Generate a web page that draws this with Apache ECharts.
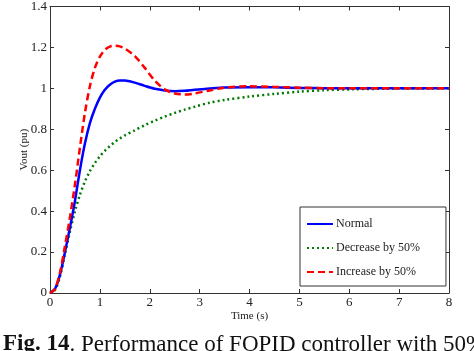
<!DOCTYPE html>
<html>
<head>
<meta charset="utf-8">
<script src="https://cdn.jsdelivr.net/npm/echarts@6/dist/echarts.min.js"></script>
<style>
  html, body { margin: 0; padding: 0; background: #fff; }
  #chart { width: 474px; height: 351px; }
</style>
</head>
<body>
<div id="chart"></div>
<script>
// time samples (s)
const time = [0, 0.1, 0.2, 0.3, 0.4, 0.5, 0.6, 0.7, 0.8, 0.9, 1.0, 1.1, 1.2, 1.3, 1.4, 1.5,
  1.7, 1.9, 2.1, 2.3, 2.5, 2.7, 2.9, 3.2, 3.5, 4.0, 4.5, 5.0, 5.5, 6.0, 7.0, 8.0];

// Vout (pu)
const normal = [0, 0.02, 0.09, 0.2, 0.32, 0.45, 0.6, 0.73, 0.83, 0.9, 0.955, 0.993, 1.018, 1.033, 1.039, 1.038,
  1.028, 1.012, 0.998, 0.99, 0.986, 0.988, 0.993, 0.999, 1.004, 1.006, 1.005, 1.002, 1.001, 1.0, 1.0, 1.0];
const decrease = [0, 0.015, 0.08, 0.19, 0.3, 0.4, 0.48, 0.545, 0.595, 0.635, 0.668, 0.695, 0.718, 0.738, 0.755, 0.77,
  0.795, 0.82, 0.842, 0.862, 0.88, 0.896, 0.91, 0.93, 0.943, 0.96, 0.973, 0.984, 0.991, 0.995, 0.999, 1.0];
const increase = [0, 0.02, 0.1, 0.23, 0.37, 0.53, 0.71, 0.88, 1.01, 1.1, 1.155, 1.188, 1.204, 1.208, 1.205, 1.195,
  1.158, 1.1, 1.038, 0.995, 0.975, 0.97, 0.975, 0.99, 1.003, 1.01, 1.007, 1.003, 1.001, 1.0, 1.0, 1.0];

const seriesNames = ['Normal', 'Decrease by 50%', 'Increase by 50%'];

const pairs = (ys) => time.map((t, i) => [t, ys[i]]);

const font = '"Liberation Serif", "DejaVu Serif", serif';
const frame = '#333';

const chart = echarts.init(document.getElementById('chart'), null, { renderer: 'canvas' });

const baseAxis = {
  type: 'value',
  axisLine: { show: true, onZero: false, lineStyle: { color: frame, width: 1 } },
  axisTick: { show: true, inside: true, length: 4, lineStyle: { color: frame } },
  splitLine: { show: false },
  axisLabel: { color: '#222', fontFamily: font, fontSize: 13 },
};

const option = {
  backgroundColor: '#fff',
  animation: false,
  grid: { left: 50, right: 25, top: 6, bottom: 58 },
  xAxis: [
    Object.assign({}, baseAxis, {
      min: 0, max: 8, interval: 1, position: 'bottom',
      axisLabel: Object.assign({}, baseAxis.axisLabel, { margin: 3 }),
      name: 'Time (s)', nameLocation: 'middle', nameGap: 18, nameMoveOverlap: false,
      nameTextStyle: { color: '#222', fontFamily: font, fontSize: 11 },
    }),
    Object.assign({}, baseAxis, {
      min: 0, max: 8, interval: 1, position: 'top',
      axisLabel: { show: false },
    }),
  ],
  yAxis: [
    Object.assign({}, baseAxis, {
      min: 0, max: 1.4, interval: 0.2, position: 'left',
      axisLabel: Object.assign({}, baseAxis.axisLabel, { margin: 3 }),
      name: 'Vout (pu)', nameLocation: 'middle', nameGap: 20, nameMoveOverlap: false,
      nameTextStyle: { color: '#222', fontFamily: font, fontSize: 11 },
    }),
    Object.assign({}, baseAxis, {
      min: 0, max: 1.4, interval: 0.2, position: 'right',
      axisLabel: { show: false },
    }),
  ],
  legend: {
    data: seriesNames,
    orient: 'vertical',
    left: 300, top: 207,
    padding: [11, 26, 8, 6],
    itemWidth: 26, itemHeight: 12, itemGap: 12,
    itemStyle: { opacity: 0 },
    backgroundColor: '#fff',
    borderColor: frame, borderWidth: 1, borderRadius: 0,
    textStyle: { color: '#222', fontFamily: font, fontSize: 12, padding: [0, 0, 0, -2] },
  },
  graphic: [{
    type: 'text',
    left: 3, top: 333,
    style: {
      text: '{b|Fig. 14}. Performance of FOPID controller with 50%',
      font: '23px ' + font,
      fill: '#111',
      rich: { b: { fontWeight: 'bold', fontSize: 23, fontFamily: font, fill: '#111' } },
    },
  }],
  series: [
    {
      name: seriesNames[0], type: 'line', data: pairs(normal), smooth: 0.3,
      symbol: 'none', color: '#0000ff',
      lineStyle: { color: '#0000ff', width: 2.5 }, z: 3,
    },
    {
      name: seriesNames[1], type: 'line', data: pairs(decrease), smooth: 0.3,
      symbol: 'none', color: '#007a00',
      lineStyle: { color: '#007a00', width: 2.5, type: [2, 3] }, z: 2,
    },
    {
      name: seriesNames[2], type: 'line', data: pairs(increase), smooth: 0.3,
      symbol: 'none', color: '#ff0000',
      lineStyle: { color: '#ff0000', width: 2.5, type: [7, 4] }, z: 4,
    },
  ],
};

chart.setOption(option);
</script>
</body>
</html>
